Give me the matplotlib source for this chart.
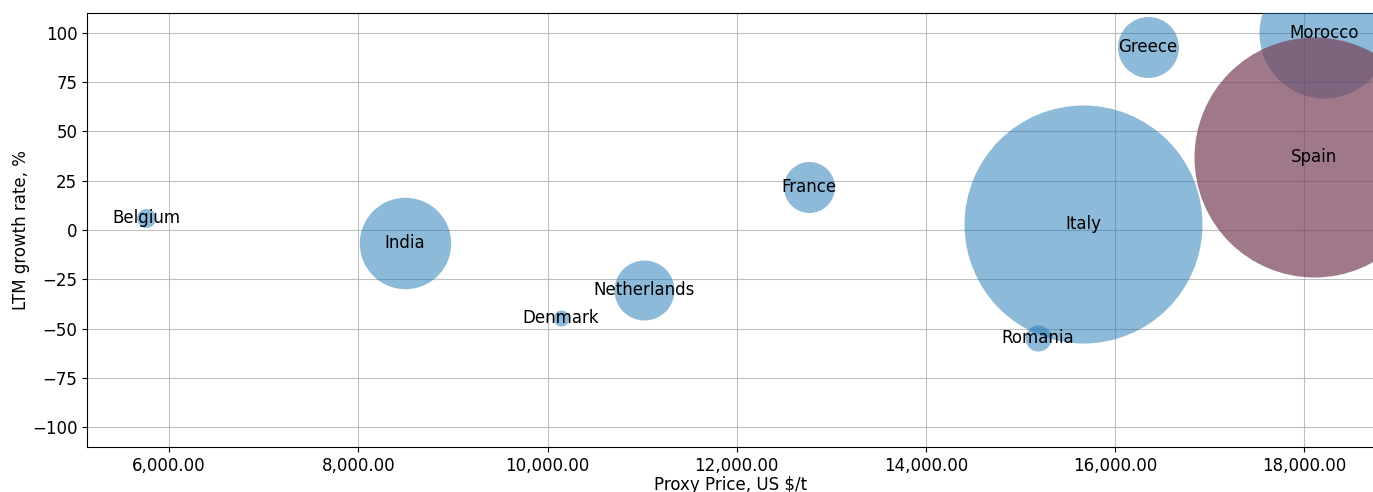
import matplotlib
matplotlib.use("Agg")
import matplotlib.pyplot as plt
from matplotlib.ticker import FuncFormatter

countries = ["Belgium", "India", "Denmark", "Netherlands", "France",
             "Romania", "Italy", "Greece", "Morocco", "Spain"]
price = [5760, 8490, 10140, 11020, 12760, 15180, 15660, 16350, 18210, 18100]
growth = [6.0, -6.5, -44.5, -30.5, 21.8, -55.0, 3.0, 92.7, 100.0, 37.0]
volume = [90, 2090, 64, 900, 650, 169, 14160, 930, 4225, 14400]

highlight = "Spain"
scale = (2 * 0.72) ** 2

fig = plt.figure(figsize=(13.73, 4.92), dpi=100)
ax = fig.add_axes([0.0634, 0.0915, 0.9376, 0.882])

for name, x, y, v in zip(countries, price, growth, volume):
    if name == highlight:
        ax.scatter(x, y, s=v * scale, color="#774158", alpha=0.7, linewidths=0, zorder=3)
    else:
        ax.scatter(x, y, s=v * scale, color="#1f77b4", alpha=0.5, linewidths=0, zorder=3)

for name, x, y in zip(countries, price, growth):
    ax.text(x, y, name, ha="center", va="center", fontsize=12, zorder=5)

ax.set_xlim(5132, 18741)
ax.set_ylim(-110, 110)
ax.set_xticks(range(6000, 18001, 2000))
ax.set_yticks(range(-100, 101, 25))
ax.xaxis.set_major_formatter(FuncFormatter(lambda v, p: f"{v:,.2f}"))
ax.tick_params(labelsize=12)
ax.set_axisbelow(True)
ax.grid(True, color="#b0b0b0", alpha=0.8)
ax.set_xlabel("Proxy Price, US $/t", fontsize=12, labelpad=1)
ax.set_ylabel("LTM growth rate, %", fontsize=12, labelpad=1)

fig.savefig("out.png", dpi=100)
